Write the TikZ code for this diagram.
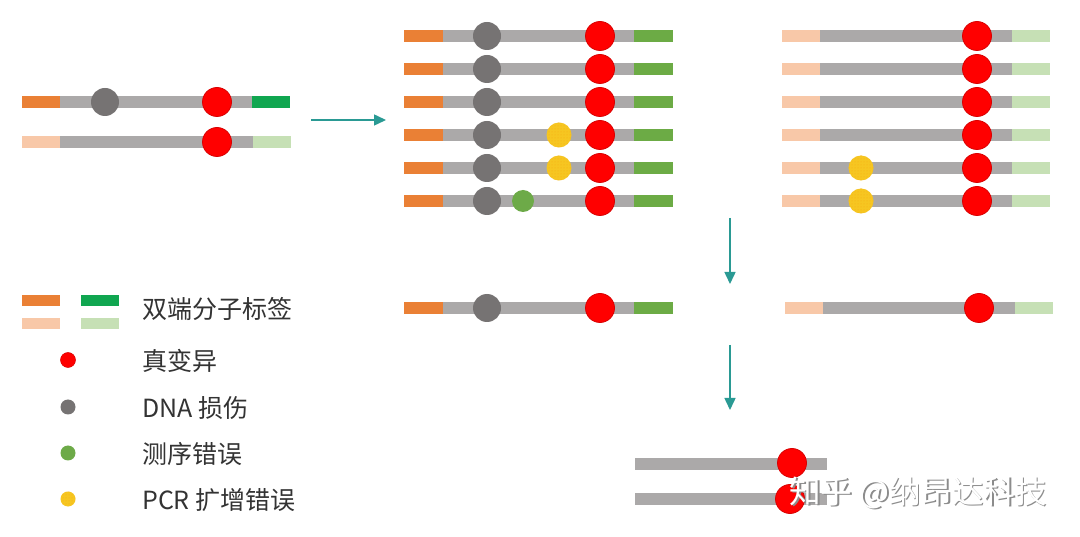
\documentclass[tikz,border=0pt]{standalone}
\usepackage{fontspec}
\newfontfamily\cjk{Noto Sans CJK SC}
\usetikzlibrary{arrows.meta,patterns}
\definecolor{tagO}{HTML}{EA8035}
\definecolor{tagOl}{HTML}{F8C8A8}
\definecolor{tagG}{HTML}{6CAB45}
\definecolor{tagGd}{HTML}{10A650}
\definecolor{tagGl}{HTML}{C6E0B5}
\definecolor{strandgray}{HTML}{ABA9A9}
\definecolor{dmggray}{HTML}{767373}
\definecolor{mutred}{HTML}{FF0000}
\definecolor{seqgreen}{HTML}{6DAA48}
\definecolor{pcryel}{HTML}{F6C621}
\definecolor{teal}{HTML}{2A9A94}
\definecolor{txt}{HTML}{333333}
\newcommand{\strand}[8]{%
  \fill[#7] (#3,#2-6) rectangle (#4,#2+6);
  \fill[strandgray] (#4,#2-6) rectangle (#5,#2+6);
  \fill[#8] (#5,#2-6) rectangle (#6,#2+6);
  \coordinate (#1) at (#3,#2);}
\begin{document}
\begin{tikzpicture}[x=1pt,y=-1pt,
  reddot/.style={circle,fill=mutred,draw=mutred!85!black,line width=0.8pt,minimum size=29pt,inner sep=0pt},
  dmgdot/.style={circle,fill=dmggray,minimum size=28pt,inner sep=0pt},
  seqdot/.style={circle,fill=seqgreen,minimum size=22pt,inner sep=0pt},
  pcrdot/.style={circle,fill=pcryel,minimum size=25pt,inner sep=0pt,postaction={pattern=dots,pattern color=pcryel!60!orange}},
  flow/.style={draw=teal,line width=1.5pt,-{Triangle[length=12pt,width=11pt]}},
  legtext/.style={anchor=west,inner sep=0pt,text=txt,font=\cjk\fontsize{25}{28}\selectfont},
  bar/.style={minimum width=38pt,minimum height=11pt,inner sep=0pt}]
\useasboundingbox (0,0) rectangle (1080,537);
\fill[white] (0,0) rectangle (1080,537);
% top left duplex
\strand{tl1}{102}{22}{60}{252}{290}{tagO}{tagGd}
\strand{tl2}{142}{22}{60}{253}{291}{tagOl}{tagGl}
\node[dmgdot] (tld) at (105,102) {};
\node[reddot] (tlr1) at (217,102) {};
\node[reddot] (tlr2) at (217,142) {};
% arrow 1
\coordinate (a1s) at (311,120);
\coordinate (a1e) at (386,120);
\draw[flow] (a1s) -- (a1e);
% middle family
\foreach \i/\y in {1/36,2/69,3/102,4/135,5/168,6/201}{
  \strand{m\i}{\y}{404}{443}{634}{673}{tagO}{tagG}
  \node[dmgdot] (md\i) at (487,\y) {};
  \node[reddot] (mr\i) at (600,\y) {};
}
\node[pcrdot] (mp4) at (559,135) {};
\node[pcrdot] (mp5) at (559,168) {};
\node[seqdot] (ms6) at (523,201) {};
% right family
\foreach \i/\y in {1/36,2/69,3/102,4/135,5/168,6/201}{
  \strand{r\i}{\y}{782}{820}{1012}{1050}{tagOl}{tagGl}
  \node[reddot] (rr\i) at (977,\y) {};
}
\node[pcrdot] (rp5) at (861,168) {};
\node[pcrdot] (rp6) at (861,201) {};
% arrow 2
\coordinate (a2s) at (730,218);
\coordinate (a2e) at (730,284);
\draw[flow] (a2s) -- (a2e);
% consensus
\strand{c1}{308}{404}{443}{634}{673}{tagO}{tagG}
\node[dmgdot] (cd1) at (487,308) {};
\node[reddot] (cr1) at (600,308) {};
\strand{c2}{308}{785}{823}{1015}{1053}{tagOl}{tagGl}
\node[reddot] (cr2) at (979,308) {};
% arrow 3
\coordinate (a3s) at (730,345);
\coordinate (a3e) at (730,410);
\draw[flow] (a3s) -- (a3e);
% final duplex
\fill[strandgray] (635,458) rectangle (827,470);
\fill[strandgray] (635,493) rectangle (827,505);
\node[reddot] (fr1) at (792,463) {};
\node[reddot] (fr2) at (790,499) {};
% legend
\node[bar,fill=tagO] (lo1) at (41,301) {};
\node[bar,fill=tagGd] (lg1) at (100,301) {};
\node[bar,fill=tagOl] (lo2) at (41,324) {};
\node[bar,fill=tagGl] (lg2) at (100,324) {};
\node[legtext] (t1) at (142,309) {双端分子标签};
\node[reddot,minimum size=15pt,line width=0.5pt] (l1) at (68,360) {};
\node[legtext] (t2) at (142,361) {真变异};
\node[dmgdot,minimum size=15pt] (l2) at (68,407) {};
\node[legtext] (t3) at (142,408) {DNA 损伤};
\node[seqdot,minimum size=15pt] (l3) at (68,453) {};
\node[legtext] (t4) at (142,454) {测序错误};
\node[pcrdot,minimum size=15pt] (l4) at (68,499) {};
\node[legtext] (t5) at (142,500) {PCR 扩增错误};
% watermark
\node[anchor=west,inner sep=0pt,text=black!45,font=\cjk\fontsize{31.5}{34}\selectfont] (wm0) at (790.8,494.2) {知乎 @纳昂达科技};
\node[anchor=west,inner sep=0pt,text=white,font=\cjk\fontsize{31.5}{34}\selectfont] (wm) at (789,493) {知乎 @纳昂达科技};
\end{tikzpicture}
\end{document}
